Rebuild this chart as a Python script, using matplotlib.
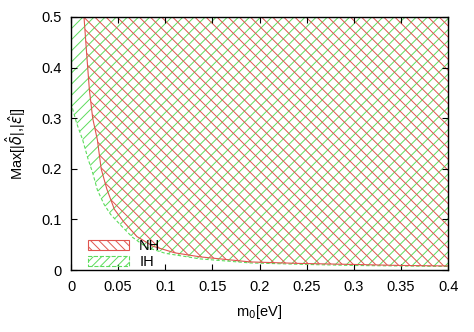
"""Allowed region of Max[|delta|,|eps|] against the lightest neutrino mass"""

import matplotlib
matplotlib.use("Agg")
import matplotlib.pyplot as plt
from matplotlib.patches import Patch
from matplotlib.ticker import FormatStrFormatter

# lower boundary of the allowed region, normal hierarchy
nh_m0 = [0.0138, 0.0165, 0.0195, 0.023, 0.028, 0.032, 0.038, 0.046, 0.056,
         0.07, 0.087, 0.11, 0.137, 0.19, 0.243, 0.3, 0.35, 0.4]
nh_max = [0.5, 0.43, 0.356, 0.30, 0.257, 0.20, 0.16, 0.12, 0.095,
          0.066, 0.047, 0.034, 0.026, 0.016, 0.013, 0.011, 0.009, 0.008]

# lower boundary of the allowed region, inverted hierarchy
ih_m0 = [0.0, 0.006, 0.0124, 0.018, 0.023, 0.028, 0.035, 0.042, 0.052,
         0.065, 0.08, 0.1, 0.137, 0.19, 0.25, 0.3, 0.35, 0.4]
ih_max = [0.33, 0.29, 0.257, 0.22, 0.192, 0.158, 0.13, 0.11, 0.09,
          0.065, 0.045, 0.033, 0.022, 0.014, 0.011, 0.009, 0.008, 0.007]

x_ticks = [0, 0.05, 0.1, 0.15, 0.2, 0.25, 0.3, 0.35, 0.4]
y_ticks = [0, 0.1, 0.2, 0.3, 0.4, 0.5]
y_top = 0.5

red = "#e0544e"
green = "#5cdc5c"
fs = 10.5

plt.rcParams["font.family"] = ["Liberation Sans", "DejaVu Sans"]
plt.rcParams["font.size"] = fs
plt.rcParams["hatch.linewidth"] = 0.7

fig = plt.figure(figsize=(4.74, 3.32), dpi=100)
ax = fig.add_axes([0.1498, 0.1867, 0.7955, 0.7621])

# hatched regions above each boundary
ax.fill_between(ih_m0, ih_max, y_top, facecolor="none", edgecolor=green,
                hatch="///", linewidth=0)
ax.fill_between(nh_m0, nh_max, y_top, facecolor="none", edgecolor=red,
                hatch="\\\\\\", linewidth=0)
ax.plot(ih_m0, ih_max, color=green, linewidth=0.8, linestyle=(0, (3, 2)))
ax.plot(nh_m0, nh_max, color=red, linewidth=0.8)

ax.set_xlim(0, 0.4)
ax.set_ylim(0, 0.5)
ax.set_xticks(x_ticks)
ax.set_yticks(y_ticks)
ax.xaxis.set_major_formatter(FormatStrFormatter("%g"))
ax.yaxis.set_major_formatter(FormatStrFormatter("%g"))
ax.tick_params(direction="in", top=True, right=True, length=4, width=0.8,
               labelsize=fs, pad=7)
for s in ax.spines.values():
    s.set_linewidth(1.0)

ax.set_xlabel(r"m$_0$[eV]", fontsize=fs, labelpad=7)
ax.set_ylabel(r"Max[|$\hat{\delta}$|,|$\hat{\varepsilon}$|]", fontsize=fs,
              labelpad=9)

handles = [
    Patch(facecolor="none", edgecolor=red, hatch="\\\\\\\\", linewidth=0.8,
          label="NH"),
    Patch(facecolor="none", edgecolor=green, hatch="////", linewidth=0.8,
          linestyle="--", label="IH"),
]
ax.legend(handles=handles, loc="lower left", frameon=False, fontsize=fs,
          handlelength=2.8, handleheight=0.6, labelspacing=0.15,
          handletextpad=0.7, borderaxespad=0.0,
          bbox_to_anchor=(0.03, -0.02))

fig.savefig("out.png", dpi=100)
